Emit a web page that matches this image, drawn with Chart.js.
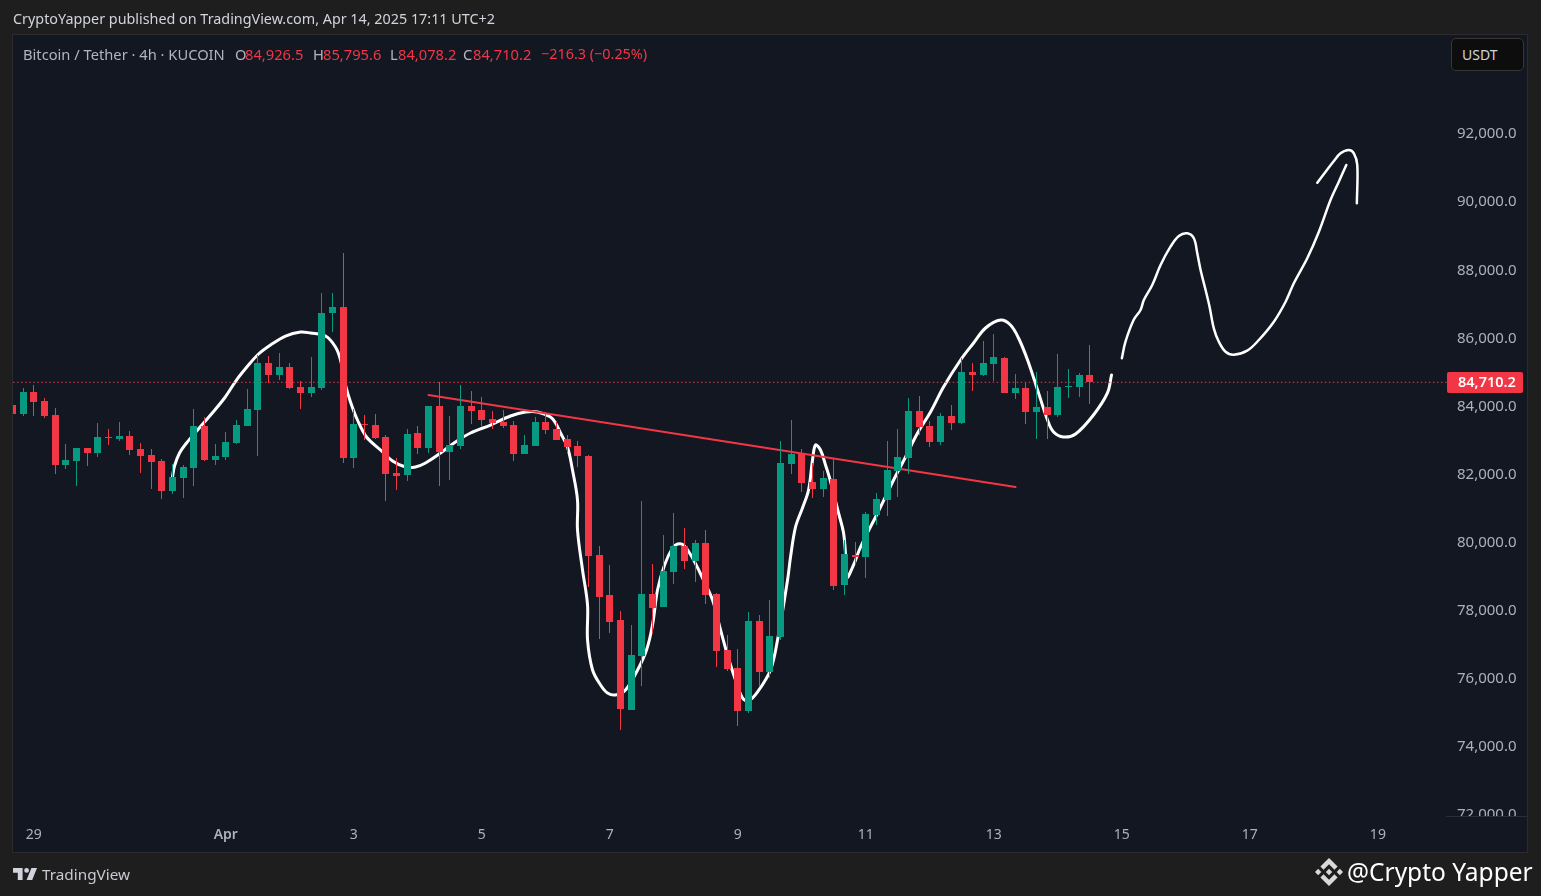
<!DOCTYPE html>
<html>
<head>
<meta charset="utf-8">
<title>Bitcoin / Tether</title>
<script src="https://cdn.jsdelivr.net/npm/chart.js@4"></script>
<style>
html, body { margin: 0; padding: 0; width: 1541px; height: 896px; overflow: hidden; background: #1e1e1e; font-family: "Noto Sans", sans-serif; }
#panel { position: absolute; left: 12px; top: 34px; width: 1514px; height: 817px; background: #131722; border: 1px solid #2b2b2b; }
canvas { position: absolute; left: 0; top: 0; }
.t { position: absolute; white-space: nowrap; font-size: 14.7px; line-height: 20px; }
.g { color: #b2b5be; }
.r { color: #f23645; }
#usdt { position: absolute; left: 1451px; top: 38px; width: 71px; height: 31px; background: #0d0d0d; border: 1px solid #363636; border-radius: 5px; }
</style>
</head>
<body>
<div id="panel"></div>
<canvas id="myChart" width="1541" height="896"></canvas>

<div class="t" style="left:13px;top:9px;color:#d1d4dc;font-size:14.35px">CryptoYapper published on TradingView.com, Apr 14, 2025 17:11 UTC+2</div>
<div class="t g" style="left:23px;top:44px">Bitcoin / Tether · 4h · KUCOIN</div>
<div class="t g" style="left:235px;top:44px">O</div><div class="t r" style="left:245px;top:44px">84,926.5</div>
<div class="t g" style="left:313px;top:44px">H</div><div class="t r" style="left:323px;top:44px">85,795.6</div>
<div class="t g" style="left:390px;top:44px">L</div><div class="t r" style="left:398px;top:44px">84,078.2</div>
<div class="t g" style="left:463px;top:44px">C</div><div class="t r" style="left:473px;top:44px">84,710.2</div>
<div class="t r" style="left:541px;top:44px;font-size:14.4px">−216.3 (−0.25%)</div>
<div id="usdt"></div>
<div class="t" style="left:1462px;top:45px;color:#d1d4dc;font-size:14px">USDT</div>

<svg style="position:absolute;left:13px;top:866px" width="24" height="16" viewBox="2 6 30 15"><path fill="#d1d4dc" d="M14 6H2v6h6v9h6V6Zm12 15h-7l6-15h7l-6 15Zm-7-9a3 3 0 1 0 0-6 3 3 0 0 0 0 6Z"/></svg>
<div class="t" style="left:42px;top:864px;color:#c8cad0;font-size:15.3px">TradingView</div>
<svg style="position:absolute;left:1315px;top:858px" width="28" height="28" viewBox="0 0 126.6 126.6"><path fill="#d9d9d9" d="M38.73 53.2l24.59-24.58 24.6 24.6 14.3-14.31L63.32 0 24.43 38.9zM0 63.31l14.3-14.31 14.31 14.31-14.31 14.3zM38.73 73.41l24.59 24.59 24.6-24.6 14.31 14.29-38.9 38.91-38.91-38.88zM98 63.31L112.3 49l14.31 14.3-14.31 14.32zM77.83 63.3L63.32 48.78 52.59 59.51l-1.24 1.23-2.54 2.54 14.51 14.5 14.51-14.47z"/></svg>
<div class="t" style="left:1347px;top:855px;color:#fff;font-size:24.5px;line-height:34px">@Crypto Yapper</div>

<script>
// candles, 4h, first one sits two slots before the "29" tick
const firstCandle = -2;
const opens = [
    84040, 83779, 84425, 84161, 83750, 82282, 82399, 82781, 82634, 83104,
    83045, 83133, 82752, 82575, 82399, 81518, 81900, 82194, 83427, 82429,
    82517, 82928, 83427, 83897, 85277, 84924, 85159, 84572, 84396, 84543,
    86745, 86921, 82487, 83486, 83456, 83104, 82047, 81988, 83221, 82781,
    84014, 82664, 82840, 84014, 83897, 83632, 83544, 83456, 82605, 82840,
    83544, 83339, 83045, 82840, 82546, 79640, 78465, 77731, 75089, 76674,
    78494, 78113, 79140, 79904, 79463, 79992, 78494, 76850, 76322, 75059,
    77702, 76204, 77232, 82311, 82605, 81782, 81577, 81871, 78758, 79639,
    79580, 80814, 81254, 82105, 82487, 83867, 83427, 82957, 83720, 83515,
    85013, 84925, 85247, 85424, 84396, 84543, 83838, 83985, 83750, 84572,
    84572, 84926.5
];
const highs = [
    84200, 84543, 84631, 84249, 83955, 82898, 82781, 82781, 83515, 83339,
    83544, 83280, 82928, 82752, 82458, 82311, 82282, 83926, 83691, 82898,
    83251, 83603, 84513, 85511, 85482, 85570, 85277, 84748, 85453, 87332,
    87332, 88506, 83926, 83750, 83779, 83163, 82487, 83339, 83427, 84014,
    84709, 83721, 84631, 84455, 84278, 83867, 83897, 83574, 83163, 83691,
    83809, 83544, 83163, 82986, 82575, 79904, 79346, 77995, 77584, 81225,
    79375, 80227, 80873, 80432, 80080, 80374, 78524, 77291, 76880, 77966,
    77878, 78318, 82987, 83603, 82751, 82340, 82105, 82458, 80080, 80021,
    80902, 81459, 82986, 83339, 84249, 84300, 83573, 83808, 84043, 85424,
    85277, 85923, 86128, 85453, 84954, 84690, 85013, 84455, 85541, 85101,
    84983, 85795.6
];
const lows = [
    83700, 83721, 83721, 83662, 82018, 82164, 81665, 82252, 82517, 82869,
    82986, 82575, 82047, 81577, 81284, 81430, 81313, 81665, 82399, 82282,
    82429, 82898, 83427, 82546, 84689, 84778, 84513, 83926, 84278, 84484,
    86187, 82340, 82194, 83016, 83045, 81225, 81548, 81812, 82605, 82634,
    81665, 81841, 82752, 83486, 83427, 83339, 83368, 82399, 82605, 82840,
    83192, 83016, 82664, 82223, 78700, 77173, 77349, 74501, 75089, 75793,
    77320, 78113, 78788, 79228, 78847, 78201, 76351, 76234, 74619, 75000,
    75793, 76028, 77144, 82018, 81489, 81313, 81342, 78611, 78465, 79375,
    78964, 80520, 80784, 81342, 82017, 83162, 82810, 82869, 83309, 83486,
    84455, 84895, 84748, 84396, 84220, 83486, 83045, 83045, 83691, 84249,
    84279, 84078.2
];
const closes = [
    83780, 84425, 84132, 83721, 82282, 82429, 82781, 82634, 83104, 83075,
    83133, 82722, 82546, 82370, 81518, 81929, 82223, 83427, 82429, 82546,
    82957, 83456, 83926, 85277, 84924, 85159, 84543, 84396, 84572, 86745,
    86921, 82487, 83486, 83456, 83075, 82018, 81959, 83192, 82781, 84014,
    82664, 82869, 84014, 83867, 83603, 83515, 83427, 82605, 82869, 83544,
    83309, 83016, 82810, 82546, 79610, 78406, 77672, 75118, 76703, 78494,
    78083, 79170, 79904, 79463, 79992, 78465, 76821, 76292, 75059, 77702,
    76204, 77261, 82341, 82605, 81753, 81577, 81900, 78729, 79668, 79580,
    80843, 81283, 82135, 82516, 83867, 83397, 82957, 83720, 83515, 85013,
    84925, 85277, 85453, 84396, 84543, 83838, 83985, 83750, 84572, 84602,
    84925, 84710.2
];
const lastClose = 84710.2;

// axes
const xTickSlots = [0, 18, 30, 42, 54, 66, 78, 90, 102, 114, 126];
const xTickLabels = ['29', 'Apr', '3', '5', '7', '9', '11', '13', '15', '17', '19'];
const yTicks = [72000, 74000, 76000, 78000, 80000, 82000, 84000, 86000, 88000, 90000, 92000];
const xRange = [-1.95, 132.48];
const yRange = [71976, 94907];

// trend line
const trendSlots = [37.0, 92.03];
const trendPrices = [84337, 81636];

// hand drawn white line through the candles
const traceSlots = [
    13.0, 13.19, 13.66, 14.32, 15.35, 16.57, 17.88, 19.0, 20.13, 21.07, 22.19, 23.6, 25.0, 25.94, 27.35, 28.28, 28.75,
    29.22, 29.69, 30.34, 31.19, 32.5, 33.63, 34.85, 35.78, 36.72, 38.13, 39.53, 40.94, 42.81, 44.69, 46.1, 47.22,
    48.44, 48.91, 49.38, 50.03, 50.5, 50.97, 50.97, 51.44, 51.91, 51.91, 52.38, 53.13, 53.78, 54.53, 55.47, 56.6,
    57.44, 58.0, 58.47, 59.13, 59.88, 60.35, 60.91, 61.75, 62.69, 63.63, 64.38, 65.03, 65.78, 66.44, 67.0, 67.85,
    69.06, 69.72, 70.66, 70.94, 71.41, 72.06, 72.63, 73.0, 73.28, 73.75, 74.22, 74.6, 75.44, 75.91, 76.1, 76.19,
    76.85, 77.5, 79.1, 80.6, 81.72, 82.85, 84.06, 85.28, 86.88, 88.1, 89.22, 90.63, 91.56, 92.31, 93.16, 94.1,
    95.03, 95.6, 96.53, 97.66, 99.34, 100.65, 101.03
];
const tracePrices = [
    81930, 82252, 82634, 82928, 83309, 83750, 84249, 84777, 85218, 85541, 85805, 86069, 86187, 86157, 86069, 85746, 85365,
    84631, 84132, 83603, 83104, 82722, 82399, 82223, 82223, 82341, 82634, 82957, 83221, 83456, 83720, 83838, 83838,
    83691, 83515, 83221, 82810, 82135, 81254, 80373, 79199, 78171, 77144, 76263, 75823, 75588, 75529, 75676, 76263,
    76850, 77584, 78612, 79346, 79845, 79962, 79933, 79551, 78964, 78318, 77437, 76703, 75969, 75441, 75353, 75617,
    76263, 77144, 78905, 79581, 80462, 81019, 81548, 82429, 82869, 82722, 82282, 81900, 80873, 80285, 79639, 78964,
    79346, 79874, 80873, 81841, 82517, 83221, 83838, 84572, 85365, 85864, 86304, 86539, 86392, 86011, 85365, 84484,
    83603, 83251, 83104, 83192, 83750, 84396, 84924
];

// forecast strokes on the right
const forecastSlots = [
    102.0, 102.34, 103.1, 103.75, 104.06, 104.85, 105.63, 106.56, 107.34, 108.13, 108.75, 109.07, 109.38, 109.85, 110.22,
    110.62, 111.09, 111.72, 112.5, 113.75, 114.84, 116.25, 117.35, 118.12, 119.38, 120.47, 121.56, 122.34, 123.04
];
const forecastPrices = [
    85414, 85902, 86539, 86833, 87126, 87567, 88154, 88691, 89005, 89085, 88938, 88497, 88007, 87420, 86930,
    86295, 85902, 85608, 85520, 85638, 85952, 86489, 87076, 87617, 88351, 89132, 90062, 90600, 91090
];
const hookSlots = [120.32, 121.1, 121.82, 122.5, 123.28, 123.75, 124.07, 124.03];
const hookPrices = [90570, 90893, 91187, 91433, 91530, 91433, 91090, 89965];

const UP = '#089981';
const DOWN = '#f23645';
const TEXT = '#aeb1ba';

const zip = (xs, ys) => xs.map((x, i) => ({ x: x, y: ys[i] }));
const money = v => v.toLocaleString('en-US', { minimumFractionDigits: 1, maximumFractionDigits: 1 });

const slots = opens.map((_, i) => firstCandle + i);
const colors = opens.map((o, i) => closes[i] >= o ? UP : DOWN);

function drawing(points, order, color, width) {
    return {
        type: 'line',
        data: points,
        order: order,
        borderColor: color,
        borderWidth: width,
        pointRadius: 0,
        tension: 0.35,
        borderCapStyle: 'round',
        borderJoinStyle: 'round'
    };
}

const priceLine = drawing(zip(xRange, [lastClose, lastClose]), 3, DOWN, 1);
priceLine.borderDash = [1.5, 2.5];
priceLine.borderCapStyle = 'butt';

// keeps candles on whole pixels, the way the original is drawn
const snapCandles = {
    id: 'snapCandles',
    afterDatasetsUpdate(chart) {
        chart.getSortedVisibleDatasetMetas().forEach(meta => {
            if (meta.type !== 'bar') return;
            meta.data.forEach(bar => {
                bar.x = Math.floor(bar.x) + 0.5;
                bar.y = Math.round(bar.y);
                bar.base = Math.round(bar.base);
                if (bar.y === bar.base) bar.base = bar.y + 1;
            });
        });
    }
};

// cuts the 72,000 label at the time axis, like the original
const axisCorner = {
    id: 'axisCorner',
    beforeDatasetsDraw(chart) {
        const c = chart.ctx, a = chart.chartArea;
        c.save();
        c.fillStyle = '#131722';
        c.fillRect(a.right, a.bottom, 1527 - a.right, 852 - a.bottom);
        c.fillStyle = '#2a2e39';
        c.fillRect(a.right - 1, a.bottom, 1527 - a.right + 1, 1);
        c.restore();
    },
    afterDraw(chart) {
        const c = chart.ctx, a = chart.chartArea;
        const y = chart.scales.y.getPixelForValue(lastClose);
        c.save();
        c.fillStyle = DOWN;
        c.beginPath();
        c.roundRect(a.right, Math.round(y) - 10, 76, 21, 2);
        c.fill();
        c.fillStyle = '#ffffff';
        c.font = '600 14.5px "Noto Sans"';
        c.textAlign = 'left';
        c.textBaseline = 'middle';
        c.fillText(money(lastClose), a.right + 11, Math.round(y) + 0.5);
        c.restore();
    }
};

const myChart = new Chart(document.getElementById('myChart'), {
    type: 'bar',
    data: {
        datasets: [
            drawing(zip(traceSlots, tracePrices), 6, '#ffffff', 3),
            drawing(zip(forecastSlots, forecastPrices), 6, '#ffffff', 2.5),
            drawing(zip(hookSlots, hookPrices), 6, '#ffffff', 2.5),
            drawing(zip(trendSlots, trendPrices), 5, DOWN, 2),
            priceLine,
            {
                label: 'wicks',
                order: 2,
                data: slots.map((s, i) => ({ x: s, y: [lows[i], highs[i]] })),
                backgroundColor: colors,
                barThickness: 1,
                maxBarThickness: 1,
                grouped: false,
                barPercentage: 1,
                categoryPercentage: 1,
                inflateAmount: 0
            },
            {
                label: 'bodies',
                order: 1,
                data: slots.map((s, i) => ({ x: s, y: [Math.min(opens[i], closes[i]), Math.max(opens[i], closes[i])] })),
                backgroundColor: colors,
                barThickness: 7,
                maxBarThickness: 7,
                grouped: false,
                barPercentage: 1,
                categoryPercentage: 1,
                inflateAmount: 0
            }
        ]
    },
    options: {
        responsive: false,
        animation: false,
        events: [],
        layout: { padding: { left: 13, top: 35, right: 14, bottom: 44 } },
        plugins: { legend: { display: false }, tooltip: { enabled: false } },
        scales: {
            x: {
                type: 'linear',
                offset: false,
                min: xRange[0],
                max: xRange[1],
                grid: { display: false },
                border: { display: false },
                afterBuildTicks: scale => { scale.ticks = xTickSlots.map(v => ({ value: v })); },
                afterFit: scale => { scale.height = 36; },
                ticks: {
                    autoSkip: false,
                    maxRotation: 0,
                    padding: 3,
                    color: TEXT,
                    font: ctx => ({ family: 'Noto Sans', size: 14, weight: ctx.tick && ctx.tick.value === 18 ? '600' : '400' }),
                    callback: value => xTickLabels[xTickSlots.indexOf(value)]
                }
            },
            y: {
                position: 'right',
                min: yRange[0],
                max: yRange[1],
                grid: { display: false },
                border: { display: false },
                afterBuildTicks: scale => { scale.ticks = yTicks.map(v => ({ value: v })); },
                afterFit: scale => { scale.width = 80; },
                ticks: {
                    padding: 2,
                    color: TEXT,
                    font: { family: 'Noto Sans', size: 15 },
                    callback: value => money(value)
                }
            }
        }
    },
    plugins: [snapCandles, axisCorner]
});
</script>
</body>
</html>
